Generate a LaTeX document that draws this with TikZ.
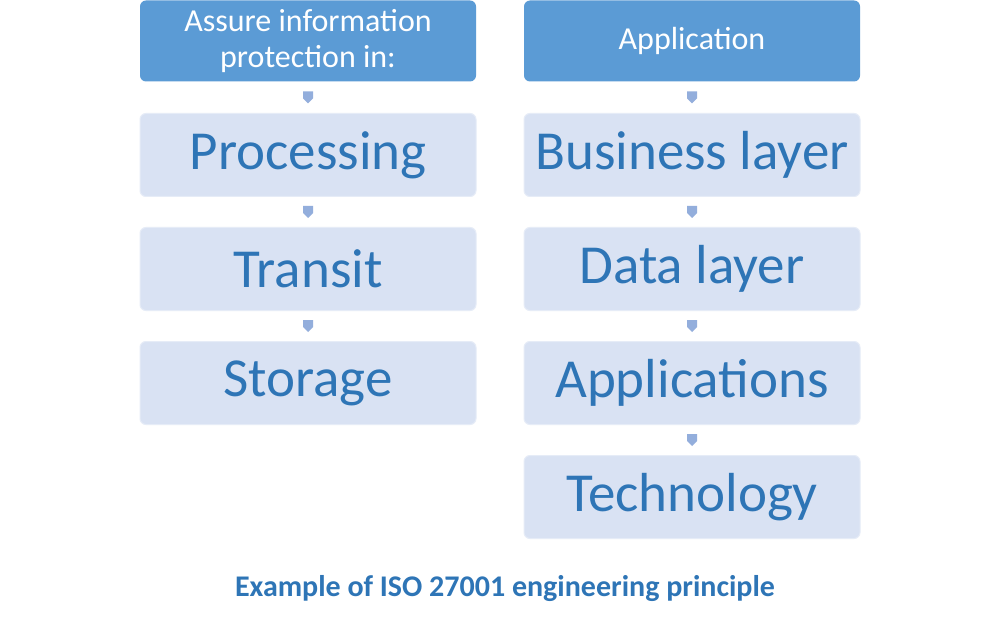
\documentclass[tikz,border=0pt]{standalone}
\usepackage{fontspec}
\setmainfont{Carlito}
\usetikzlibrary{calc}
\definecolor{hdr}{HTML}{5B9BD5}
\definecolor{lite}{HTML}{D9E2F3}
\definecolor{liteedge}{HTML}{E6ECF7}
\definecolor{txt}{HTML}{2E75B6}
\definecolor{arr}{HTML}{93AEDC}
\tikzset{
  x=1pt, y=-1pt,
  hdrbox/.style={fill=hdr, draw=none, rounded corners=6pt, minimum width=336pt, minimum height=81pt,
     text=white, font=\fontsize{32}{36}\selectfont, align=center, inner sep=0pt},
  itembox/.style={fill=lite, draw=liteedge, line width=1pt, rounded corners=6pt, minimum width=336pt, minimum height=83pt,
     text=txt, font=\fontsize{55}{60}\selectfont, inner sep=0pt},
  darrow/.style={fill=arr, draw=none},
}
\begin{document}
\begin{tikzpicture}
\useasboundingbox[fill=white] (0,0) rectangle (1000,628);
% left column
\node[hdrbox] (lh) at (308,41) {Assure information\\protection in:};
\node[itembox] (l1) at (308,155) {Processing};
\node[itembox] (l2) at (308,269) {Transit};
\node[itembox] (l3) at (308,383) {Storage};
% right column
\node[hdrbox] (rh) at (692,41) {Application};
\node[itembox] (r1) at (692,155) {Business layer};
\node[itembox] (r2) at (692,269) {Data layer};
\node[itembox] (r3) at (692,383) {Applications};
\node[itembox] (r4) at (692,497) {Technology};
% arrows
\foreach \a/\b in {lh/l1,l1/l2,l2/l3,rh/r1,r1/r2,r2/r3,r3/r4}{
  \path (\a.south) -- (\b.north) coordinate[midway] (m);
  \fill[darrow] ($(m)+(-5,-6)$) -- ++(10,0) -- ++(0,7) -- ++(-5,5) -- ++(-5,-5) -- cycle;
}
\node[font=\bfseries\fontsize{30}{34}\selectfont, text=txt] (cap) at (505,589) {Example of ISO 27001 engineering principle};
\end{tikzpicture}
\end{document}
